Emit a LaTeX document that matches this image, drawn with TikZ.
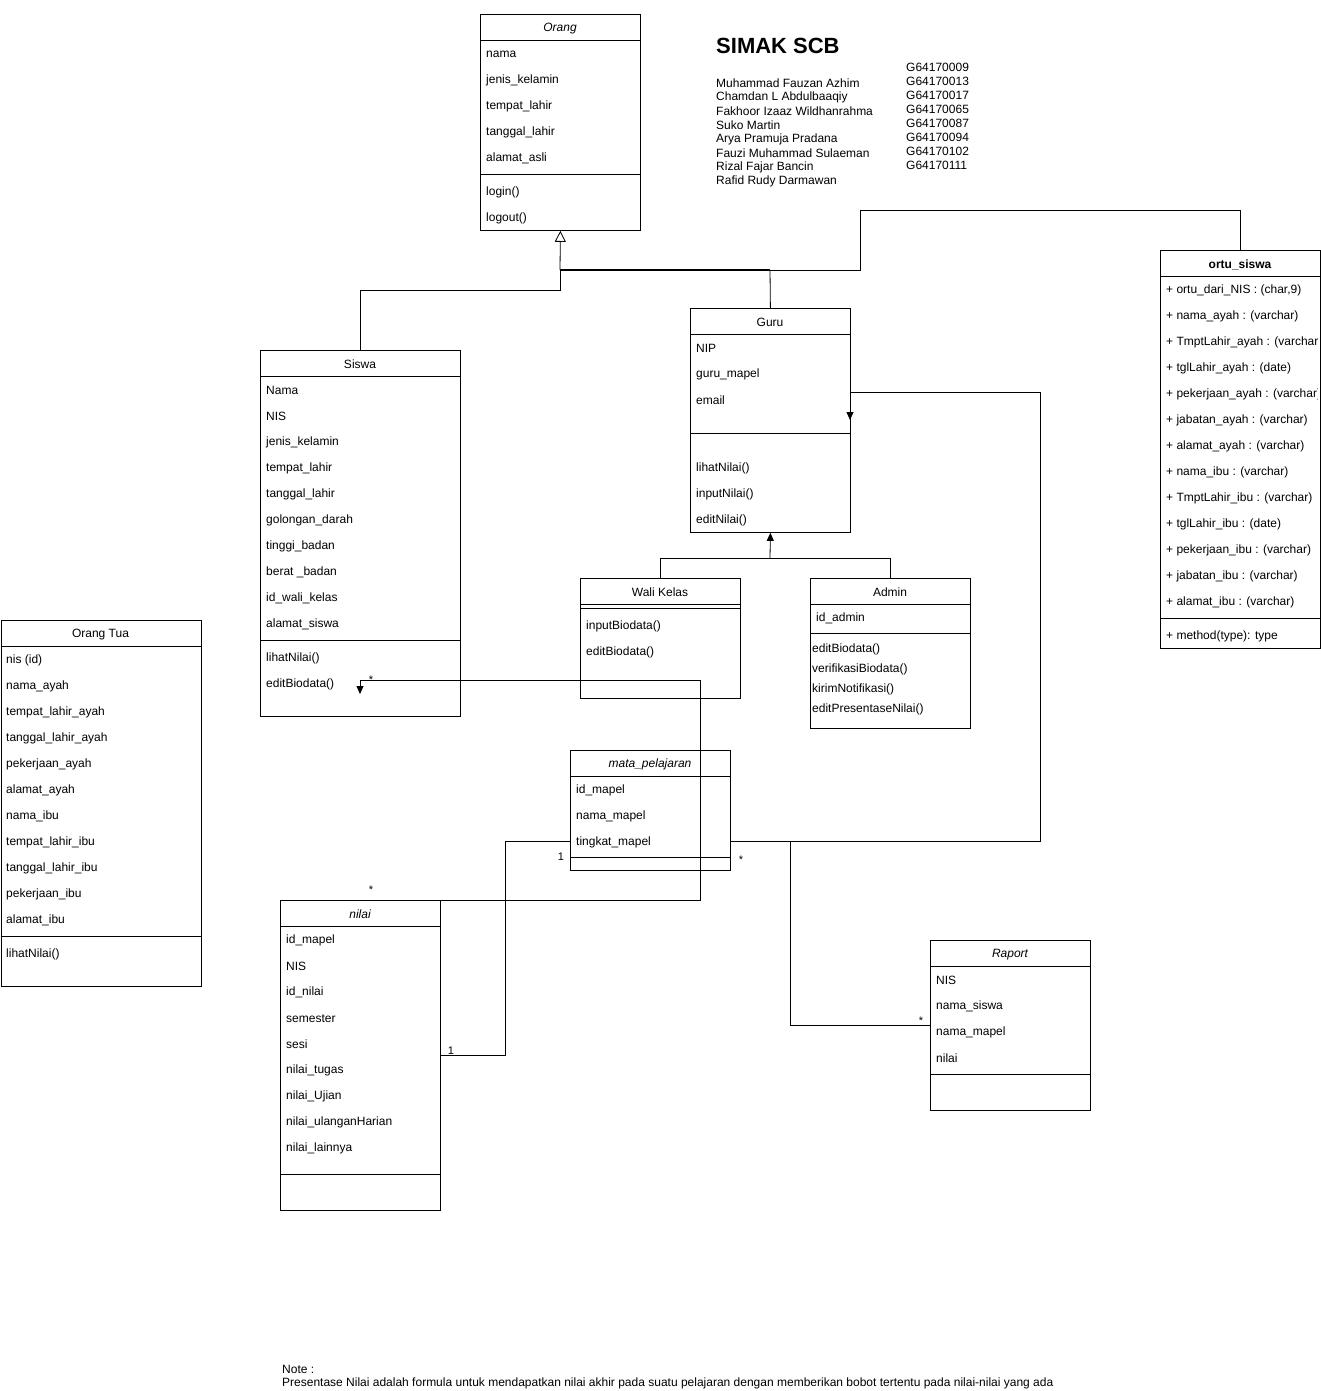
\documentclass[tikz,border=0pt]{standalone}
\usepackage{fontspec}
\setmainfont{Liberation Sans}
\usetikzlibrary{arrows.meta}
\tikzset{
  box/.style={draw,anchor=north west,inner sep=0,line width=0.8pt},
  it/.style={anchor=west,inner sep=0,font=\fontsize{12}{14}\selectfont},
  ttl/.style={anchor=center,inner sep=0,font=\fontsize{12}{14}\selectfont},
  ln/.style={line width=0.8pt},
  lab/.style={inner sep=0,font=\fontsize{11}{13}\selectfont},
}
\newcommand\ubox[6]{% name,x,y,w,h,title
  \node[box,minimum width=#4pt,minimum height=#5pt] (#1) at (#2,#3) {};
  \node[ttl] (#1t) at ({#2+#4/2},{#3+14.5}) {#6};
  \draw[ln] (#2,{#3+26}) -- ++(#4,0);}
\newcommand\sep[3]{\draw[ln] (#1,#3) -- ++(#2,0);}
\newcommand\items[4]{% x,ystart,step,list
  \foreach \t [count=\i from 0] in {#4} {\node[it] at (#1,{#2+1.5+\i*#3}) {\t};}}
\begin{document}
\begin{tikzpicture}[x=1pt,y=-1pt]
\useasboundingbox (0,0) rectangle (1321,1391);
% Orang
\ubox{orang}{480}{14}{160}{216}{\itshape Orang}
\items{486}{53}{26}{nama,jenis\_kelamin,tempat\_lahir,tanggal\_lahir,alamat\_asli}
\sep{480}{160}{174}
\items{486}{191}{26}{login(),logout()}
% Siswa
\ubox{siswa}{260}{350}{200}{366}{Siswa}
\items{266}{389}{26}{Nama,NIS,jenis\_kelamin,tempat\_lahir,tanggal\_lahir,golongan\_darah,tinggi\_badan,berat \_badan,id\_wali\_kelas,alamat\_siswa}
\sep{260}{200}{640}
\items{266}{657}{26}{lihatNilai(),editBiodata()}
% Guru
\ubox{guru}{690}{308}{160}{224}{Guru}
\items{696}{347}{26}{NIP,guru\_mapel,email}
\sep{690}{160}{433}
\items{696}{467}{26}{lihatNilai(),inputNilai(),editNilai()}
% Wali Kelas
\ubox{wali}{580}{578}{160}{120}{Wali Kelas}
\sep{580}{160}{608}
\items{586}{625}{26}{inputBiodata(),editBiodata()}
% Admin
\ubox{admin}{810}{578}{160}{150}{Admin}
\items{816}{617}{26}{id\_admin}
\sep{810}{160}{633}
\items{812}{648}{20}{editBiodata(),verifikasiBiodata(),kirimNotifikasi(),editPresentaseNilai()}
% ortu_siswa
\ubox{ortu}{1160}{250}{160}{398}{\bfseries ortu\_siswa}
\begin{scope}
\clip (1160,250) rectangle (1317,648);
\items{1166}{289}{26}{+ ortu\_dari\_NIS : (char{,}9),+ nama\_ayah : (varchar),+ TmptLahir\_ayah : (varchar),+ tglLahir\_ayah : (date),+ pekerjaan\_ayah : (varchar),+ jabatan\_ayah : (varchar),+ alamat\_ayah : (varchar),+ nama\_ibu : (varchar),+ TmptLahir\_ibu : (varchar),+ tglLahir\_ibu : (date),+ pekerjaan\_ibu : (varchar),+ jabatan\_ibu : (varchar),+ alamat\_ibu : (varchar)}
\end{scope}
\sep{1160}{160}{618}
\items{1166}{635}{26}{+ method(type): type}
% Orang Tua
\ubox{ortua}{0.5}{620}{200}{366}{Orang Tua}
\items{6}{659}{26}{nis (id),nama\_ayah,tempat\_lahir\_ayah,tanggal\_lahir\_ayah,pekerjaan\_ayah,alamat\_ayah,nama\_ibu,tempat\_lahir\_ibu,tanggal\_lahir\_ibu,pekerjaan\_ibu,alamat\_ibu}
\sep{0.5}{200}{936}
\items{6}{953}{26}{lihatNilai()}
% mata_pelajaran
\ubox{mapel}{570}{750}{160}{120}{\itshape mata\_pelajaran}
\items{576}{789}{26}{id\_mapel,nama\_mapel,tingkat\_mapel}
\sep{570}{160}{857}
% nilai
\ubox{nilai}{280}{900}{160}{310}{\itshape nilai}
\items{286}{939}{26}{id\_mapel,NIS,id\_nilai,semester,sesi,nilai\_tugas,nilai\_Ujian,nilai\_ulanganHarian,nilai\_lainnya}
\sep{280}{160}{1174}
% Raport
\ubox{raport}{930}{940}{160}{170}{\itshape Raport}
\items{936}{979}{26}{NIS,nama\_siswa,nama\_mapel,nilai}
\sep{930}{160}{1074}
% generalization
\coordinate (g) at (560,270);
\coordinate (gg) at (770,270);
\draw[ln] (siswa.north) |- (560,290) -- (g);
\draw[ln] (guru.north) -- (gg);
\draw[line width=2pt] (gg) -- (g);
\draw[ln] (ortu.north) |- (860,210) |- (g);
\draw[ln,-{Triangle[open,length=11pt,width=11pt]}] (g) -- (orang.south);
% guru inheritance
\coordinate (h) at (770,558);
\draw[ln] (wali.north) |- (h);
\draw[ln] (admin.north) |- (h);
\draw[ln,-{Triangle[length=8pt,width=7pt]}] (h) -- (guru.south);
% associations
\draw[ln,-{Triangle[length=8pt,width=7pt]}] (730,841) -- (1040,841) -- (1040,392) -- (850,392) -- (850,420);
\draw[ln,-{Triangle[length=8pt,width=7pt]}] (440,900) -- (700,900) -- (700,680) -- (360,680) -- (360,694);
\draw[ln] (570,841) -- (505,841) -- (505,1055) -- (440,1055);
\draw[ln] (790,841) -- (790,1025) -- (930,1025);
\node[lab] at (371,680) {*};
\node[lab] at (371,890) {*};
\node[lab] at (741,860) {*};
\node[lab] at (921,1021) {*};
\node[lab] at (561,857) {1};
\node[lab] at (451,1051) {1};
% title
\node[anchor=west,inner sep=0,font=\fontsize{22}{26}\selectfont\bfseries] (title) at (716,46) {SIMAK SCB};
\foreach \t [count=\i from 0] in {Muhammad Fauzan Azhim,Chamdan L Abdulbaaqiy,Fakhoor Izaaz Wildhanrahma,Suko Martin,Arya Pramuja Pradana,Fauzi Muhammad Sulaeman,Rizal Fajar Bancin,Rafid Rudy Darmawan}
  {\node[it] at (716,{83+\i*14}) {\t};}
\foreach \t [count=\i from 0] in {G64170009,G64170013,G64170017,G64170065,G64170087,G64170094,G64170102,G64170111}
  {\node[it] at (906,{67+\i*14}) {\t};}
\node[it] (note1) at (282,1369) {Note :};
\node[it] (note2) at (282,1383) {Presentase Nilai adalah formula untuk mendapatkan nilai akhir pada suatu pelajaran dengan memberikan bobot tertentu pada nilai-nilai yang ada};
\end{tikzpicture}
\end{document}
